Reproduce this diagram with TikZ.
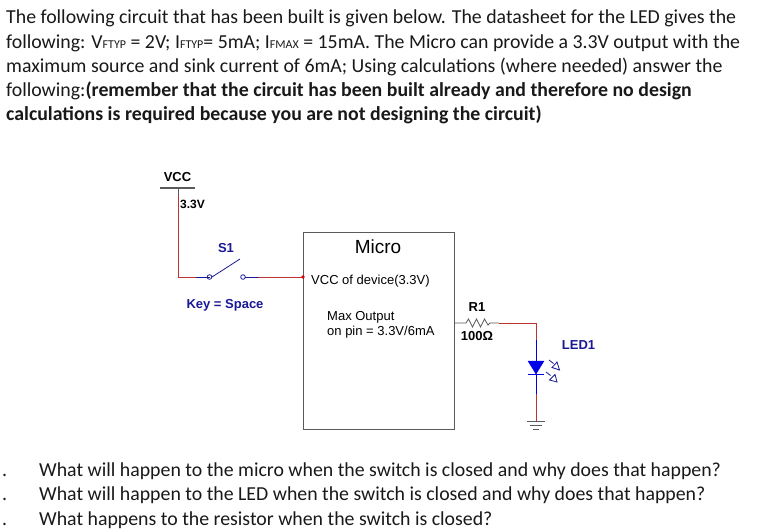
\documentclass[tikz,border=0pt]{standalone}
\usepackage{fontspec}
\setmainfont{Carlito}
\newfontfamily\labelfont{Liberation Sans}
\definecolor{wirered}{RGB}{190,50,50}
\definecolor{schemblue}{RGB}{25,25,150}
\definecolor{ledblue}{RGB}{0,0,230}
\definecolor{boxgrey}{RGB}{90,90,90}
\begin{document}
\begin{tikzpicture}[x=1pt,y=-1pt,
  para/.style={anchor=base west,inner sep=0pt,font=\fontsize{19.82}{24}\selectfont,text=black!90},
  blk/.style={inner sep=0pt,font=\labelfont\bfseries\fontsize{13}{15}\selectfont},
  blu/.style={blk,text=schemblue},
  sm/.style={inner sep=0pt,anchor=base west,font=\labelfont\fontsize{13}{15}\selectfont},
  wire/.style={wirered,line width=1pt},
  sym/.style={schemblue,line width=.8pt},
  gry/.style={boxgrey,line width=1.1pt}]
\useasboundingbox (0,0) rectangle (782,532);
\fill[white] (0,0) rectangle (782,532);
% paragraph
\node[para] (p1) at (6,24) {The following circuit that has been built is given below. The datasheet for the LED gives the};
\node[para] (p2) at (6,49) {following: V{\fontsize{12}{14}\selectfont FTYP} = 2V; I{\fontsize{12}{14}\selectfont FTYP}= 5mA; I{\fontsize{12}{14}\selectfont FMAX} = 15mA. The Micro can provide a 3.3V output with the};
\node[para] (p3) at (6,73) {maximum source and sink current of 6mA; Using calculations (where needed) answer the};
\node[para] (p4) at (6,97) {following:\textbf{(remember that the circuit has been built already and therefore no design}};
\node[para] (p5) at (6,121) {\textbf{calculations is required because you are not designing the circuit)}};
% questions
\node[para] (d1) at (2,476) {.};
\node[para] (d2) at (2,500) {.};
\node[para] (d3) at (2,525) {.};
\node[para] (q1) at (39,476) {What will happen to the micro when the switch is closed and why does that happen?};
\node[para] (q2) at (39,500) {What will happen to the LED when the switch is closed and why does that happen?};
\node[para] (q3) at (39,525) {What happens to the resistor when the switch is closed?};
% VCC
\node[blk] (vcc) at (177.5,177) {VCC};
\coordinate (rail) at (178,188);
\draw[gry] (160,188) -- (195,188);
\draw[boxgrey,line width=1pt] (rail) -- (178,196);
\node[blk,anchor=west,font=\labelfont\bfseries\fontsize{12}{14}\selectfont] (v33) at (180,204.5) {3.3V};
\coordinate (corner) at (178,277);
\coordinate (swl) at (209.5,277);
\coordinate (swr) at (243,277);
\draw[wire] (178,196) -- (corner) -- (196,277);
\draw[sym] (196,277) -- (swl);
\draw[sym] (212,277) -- (240,259);
\draw[sym] (swl) circle (2.3);
\draw[sym] (swr) circle (2.3);
\draw[sym] (245.3,277) -- (258,277);
\node[blu] (s1) at (226,248.5) {S1};
\node[blu] (key) at (225,305.5) {Key = Space};
% Micro
\node[draw=boxgrey,line width=1pt,minimum width=151pt,minimum height=197pt,inner sep=0pt] (micro) at (378.5,330.5) {};
\coordinate (pin) at (303,277);
\draw[wire] (258,277) -- (pin);
\fill[red!85!black] (pin) circle (1.8);
\node[inner sep=0pt,font=\labelfont\fontsize{19}{22}\selectfont] (mt) at (378,247) {Micro};
\node[sm] (m1) at (311,284) {VCC of device(3.3V)};
\node[sm] (m2) at (327,320) {Max Output};
\node[sm] (m3) at (327,335) {on pin = 3.3V/6mA};
% Resistor
\coordinate (rl) at (454,323);
\coordinate (rr) at (499,323);
\draw[boxgrey,line width=.8pt] (rl) -- (466,323) -- (468.5,319) -- (472.5,327) -- (476.5,319) -- (480.5,327) -- (484.5,319) -- (488,325) -- (490,323) -- (rr);
\node[blk] (r1) at (477,307) {R1};
\node[blk] (rv) at (477,336) {100Ω};
% LED branch
\coordinate (top) at (536,323);
\coordinate (an) at (536,361);
\coordinate (ca) at (536,374);
\coordinate (gnd) at (536,421);
\draw[wire] (rr) -- (top) -- (536,340);
\draw[ledblue,line width=1pt] (536,340) -- (an);
\draw[ledblue,fill=ledblue,line width=.4pt] (528,361) -- (544,361) -- (536,374) -- cycle;
\draw[ledblue,line width=1pt] (528,374) -- (544,374);
\draw[ledblue,line width=1pt] (ca) -- (536,394);
\draw[wire] (536,394) -- (gnd);
\draw[schemblue,line width=.8pt] (549,360) -- (553.5,363.5) (552,367.5) -- (559.5,370) -- (557,362) -- cycle;
\draw[schemblue,line width=.8pt] (546,372) -- (550.5,375.5) (549.5,380) -- (557,382) -- (555,374.5) -- cycle;
\node[blu] (led) at (578.5,345.5) {LED1};
% ground
\draw[boxgrey,line width=.9pt] (527,421) -- (545,421) (530,425) -- (542,425) (533,429) -- (539,429);
\end{tikzpicture}
\end{document}
